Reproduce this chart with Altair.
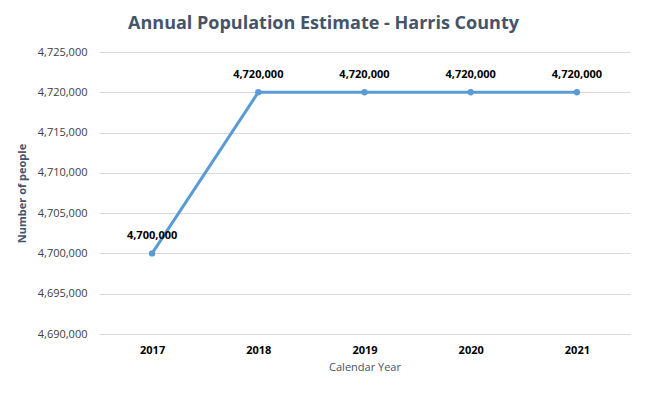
import altair as alt
import pandas as pd

years = ["2017", "2018", "2019", "2020", "2021"]
population = [4700000, 4720000, 4720000, 4720000, 4720000]
y_ticks = [4690000, 4695000, 4700000, 4705000, 4710000, 4715000, 4720000, 4725000]

df = pd.DataFrame({"year": years, "pop": population})

FONT = "Open Sans"
SLATE = "#44546A"

x = alt.X("year:O", title="Calendar Year",
          scale=alt.Scale(paddingOuter=0.5),
          axis=alt.Axis(labelAngle=0, labelFontWeight="bold", labelColor="#000000",
                        labelFontSize=11, labelFont=FONT, labelPadding=10,
                        titleFont=FONT, titleFontSize=11, titleFontWeight="normal",
                        titleColor=SLATE, titlePadding=6,
                        ticks=False, domain=True, domainColor="#D9D9D9", grid=False))
y = alt.Y("pop:Q", title="Number of people",
          scale=alt.Scale(domain=[4690000, 4725000], nice=False, zero=False),
          axis=alt.Axis(values=y_ticks, format=",d", labelFont=FONT, labelFontSize=11,
                        labelColor="#404040", labelPadding=12, ticks=False, domain=False,
                        gridColor="#D9D9D9", titleFont=FONT, titleFontSize=11,
                        titleFontWeight="bold", titleColor=SLATE, titlePadding=10))

base = alt.Chart(df).encode(x=x, y=y)
line = base.mark_line(color="#5B9BD5", strokeWidth=3)
pts = base.mark_point(color="#5B9BD5", filled=True, opacity=1, size=40)
labels = base.mark_text(dy=-17, fontWeight="bold", fontSize=11, font=FONT, color="#000000").encode(
    text=alt.Text("pop:Q", format=",d"))

chart = (line + pts + labels).properties(
    width=531, height=282,
    title=alt.TitleParams("Annual Population Estimate - Harris County", font=FONT, fontSize=18,
                          fontWeight="bold", color=SLATE, anchor="middle", dx=-41, offset=13),
    padding={"left": 8, "top": 7, "right": 5, "bottom": 5},
).configure_view(stroke=None)

chart.save("out.html", embed_options={"renderer": "svg", "actions": False})
